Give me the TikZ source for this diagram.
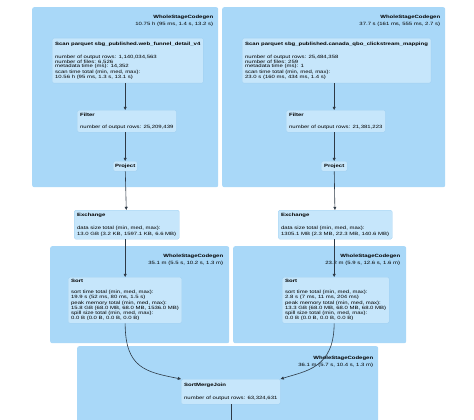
\documentclass[tikz,border=0pt]{standalone}
\usepackage{fontspec}
\setmainfont{Liberation Sans}[FakeStretch=1.3]
\usetikzlibrary{positioning,arrows.meta}
\definecolor{stageblue}{HTML}{A9D8F8}
\definecolor{opblue}{HTML}{C6E6FB}
\definecolor{opedge}{HTML}{9FD0F2}
\definecolor{edgegray}{HTML}{2E3A46}

\begin{document}
\begin{tikzpicture}[x=1pt, y=-1pt,
      font=\fontsize{4.6}{4.2}\selectfont,
      stage/.style={fill=stageblue, rounded corners=2pt, anchor=north west, inner sep=0pt},
      stagelbl/.style={align=right, anchor=north east, inner sep=0pt},
      op/.style={draw=opedge, line width=0.3pt, fill=opblue, rounded corners=1.5pt,
                 anchor=north west, align=left, inner xsep=3pt, inner ysep=0pt},
      flow/.style={-{Triangle[length=3.2pt,width=3pt]}, edgegray, line width=0.6pt},
      tail/.style={edgegray, line width=0.6pt}]
    \clip (0,0) rectangle (474,420);
    % stages
    \node[stage, minimum width=186pt, minimum height=180pt] (wsL) at (32,7) {};
    \node[stage, minimum width=223pt, minimum height=180pt] (wsR) at (222,7) {};
    \node[stage, minimum width=179pt, minimum height=97pt] (wsSL) at (50,246) {};
    \node[stage, minimum width=173pt, minimum height=97pt] (wsSR) at (233,246) {};
    \node[stage, minimum width=301pt, minimum height=90pt] (wsJ) at (77,346) {};
    \node[stagelbl] at ([shift={(-5,8)}]wsL.north east) {\textbf{WholeStageCodegen}\\[1.4pt] 10.75 h (95 ms, 1.4 s, 13.2 s)};
    \node[stagelbl] at ([shift={(-5,8)}]wsR.north east) {\textbf{WholeStageCodegen}\\[1.4pt] 37.7 s (161 ms, 555 ms, 2.7 s)};
    \node[stagelbl] at ([shift={(-6,8)}]wsSL.north east) {\textbf{WholeStageCodegen}\\[1.4pt] 35.1 m (5.5 s, 10.2 s, 1.3 m)};
    \node[stagelbl] at ([shift={(-6,8)}]wsSR.north east) {\textbf{WholeStageCodegen}\\[1.4pt] 23.2 m (5.9 s, 12.6 s, 1.6 m)};
    \node[stagelbl] at ([shift={(-5,10)}]wsJ.north east) {\textbf{WholeStageCodegen}\\[1.4pt] 36.1 m (5.7 s, 10.4 s, 1.3 m)};
    % left branch
    \node[op, minimum width=144pt, minimum height=45pt] (scanL) at (52,38) {\textbf{Scan parquet sbg\_published.web\_funnel\_detail\_v4}\\[7.8pt]
      number of output rows: 1,140,034,563\\ number of files: 6,526\\ metadata time (ms): 14,352\\
      scan time total (min, med, max):\\ 10.56 h (95 ms, 1.3 s, 13.1 s)};
    \node[op, minimum width=97pt, minimum height=22pt] (filterL) at (77,110) {\textbf{Filter}\\[7.4pt] number of output rows: 25,209,439};
    \node[op, minimum width=24pt, minimum height=10pt, align=center, inner xsep=1pt] (projL) at (113,161) {\textbf{Project}};
    \node[op, minimum width=102pt, minimum height=29pt] (exchL) at (74,210) {\textbf{Exchange}\\[7.8pt]
      data size total (min, med, max):\\ 13.0 GB (3.2 KB, 1597.1 KB, 6.6 MB)};
    \node[op, minimum width=113pt, minimum height=46pt] (sortL) at (68,277) {\textbf{Sort}\\[6.6pt]
      sort time total (min, med, max):\\ 19.9 s (52 ms, 80 ms, 1.5 s)\\ peak memory total (min, med, max):\\
      15.8 GB (68.0 MB, 68.0 MB, 1536.0 MB)\\ spill size total (min, med, max):\\ 0.0 B (0.0 B, 0.0 B, 0.0 B)};
    % right branch
    \node[op, minimum width=183pt, minimum height=45pt] (scanR) at (242,38) {\textbf{Scan parquet sbg\_published.canada\_qbo\_clickstream\_mapping}\\[7.8pt]
      number of output rows: 25,484,358\\ number of files: 259\\ metadata time (ms): 1\\
      scan time total (min, med, max):\\ 23.0 s (160 ms, 434 ms, 1.4 s)};
    \node[op, minimum width=96pt, minimum height=22pt] (filterR) at (286,110) {\textbf{Filter}\\[7.4pt] number of output rows: 21,381,223};
    \node[op, minimum width=26pt, minimum height=10pt, align=center, inner xsep=1pt] (projR) at (321,161) {\textbf{Project}};
    \node[op, minimum width=112pt, minimum height=29pt] (exchR) at (278,210) {\textbf{Exchange}\\[7.8pt]
      data size total (min, med, max):\\ 1305.1 MB (2.3 MB, 22.3 MB, 140.6 MB)};
    \node[op, minimum width=104pt, minimum height=46pt] (sortR) at (282,277) {\textbf{Sort}\\[6.6pt]
      sort time total (min, med, max):\\ 2.8 s (7 ms, 11 ms, 204 ms)\\ peak memory total (min, med, max):\\
      13.3 GB (68.0 MB, 68.0 MB, 68.0 MB)\\ spill size total (min, med, max):\\ 0.0 B (0.0 B, 0.0 B, 0.0 B)};
    % join
    \node[op, minimum width=98pt, minimum height=25pt] (smj) at (181,379) {\textbf{SortMergeJoin}\\[7.8pt] number of output rows: 63,324,631};
    \coordinate (out) at (230,420);
    % edges
    \draw[flow] (scanL.south -| projL) -- (filterL.north -| projL);
    \draw[flow] (filterL.south -| projL) -- (projL);
    \draw[flow] (projL) -- (exchL);
    \draw[flow] (exchL.south -| projL) -- (sortL.north -| projL);
    \draw[flow] (scanR.south -| projR) -- (filterR.north -| projR);
    \draw[flow] (filterR.south -| projR) -- (projR);
    \draw[flow] (projR) -- (exchR);
    \draw[flow] (exchR.south -| projR) -- (sortR.north -| projR);
    \draw[flow] (sortL.south -| projL) .. controls +(0,45) and +(-35,-7) .. (smj.north west);
    \draw[flow] (sortR.south -| projR) .. controls +(0,45) and +(25,-8) .. (smj.north east);
    \draw[tail] (smj.south) -- (smj.south |- out);
\end{tikzpicture}
\end{document}
